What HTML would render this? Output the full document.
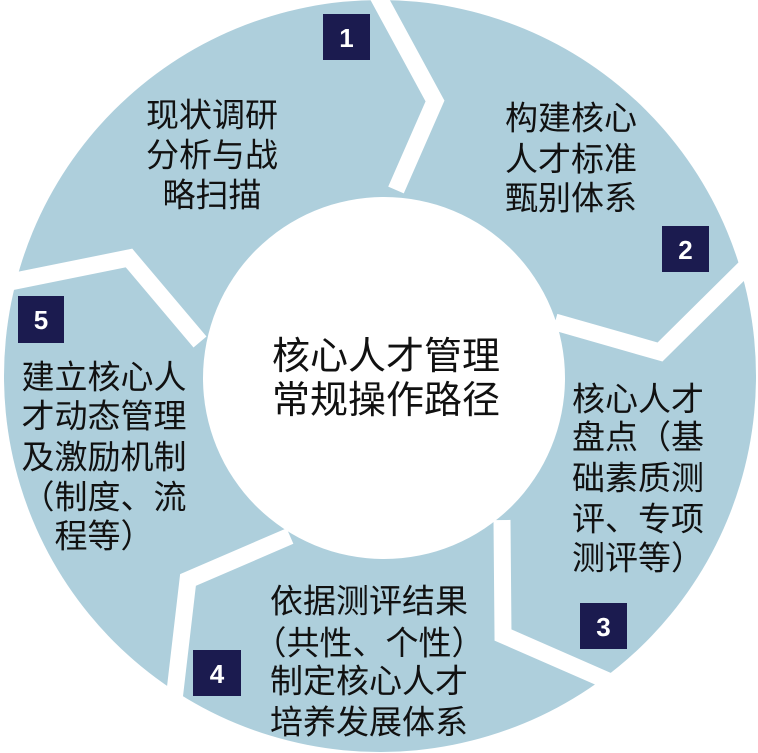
<!DOCTYPE html>
<html><head><meta charset="utf-8"><style>
html,body{margin:0;padding:0;background:#fff;}
svg{display:block;}
.t{font-family:"Liberation Sans","Noto Sans CJK SC",sans-serif;font-size:33px;fill:#111;text-anchor:middle;dominant-baseline:central;}
.c{font-size:38px;}
.n{font-family:"Liberation Sans",sans-serif;font-weight:bold;font-size:26px;fill:#fff;text-anchor:middle;dominant-baseline:central;}
</style></head><body>
<svg width="758" height="753" viewBox="0 0 758 753" xmlns="http://www.w3.org/2000/svg">
<circle cx="380" cy="376" r="376" fill="#aecfdc"/>
<g fill="none" stroke="#fff" stroke-width="17" stroke-linejoin="miter">
<polyline points="372,-15 435,101 396,190"/>
<polyline points="755,258 660,352 555,322"/>
<polyline points="502,520 503,635 615,684"/>
<polyline points="290,536 188,580 174,700"/>
<polyline points="0,284 129,258 200,342"/>
</g>
<circle cx="384" cy="378" r="181" fill="#fff"/>
<g fill="#1b1b4f">
<rect x="323" y="14" width="47" height="46"/>
<rect x="662" y="226" width="47" height="46"/>
<rect x="580" y="603" width="47" height="46"/>
<rect x="193" y="650" width="48" height="46"/>
<rect x="18" y="296" width="46" height="47"/>
</g>
<text class="n" x="346.5" y="38">1</text>
<text class="n" x="685.5" y="250">2</text>
<text class="n" x="603.5" y="627">3</text>
<text class="n" x="217" y="674">4</text>
<text class="n" x="41" y="320">5</text>
<text class="t" x="212" y="115">现状调研</text>
<text class="t" x="212" y="155">分析与战</text>
<text class="t" x="212" y="195">略扫描</text>
<text class="t" x="571" y="118">构建核心</text>
<text class="t" x="571" y="159">人才标准</text>
<text class="t" x="571" y="198">甄别体系</text>
<text class="t c" x="386" y="357">核心人才管理</text>
<text class="t c" x="386" y="401">常规操作路径</text>
<text class="t" x="638" y="399">核心人才</text>
<text class="t" x="638" y="437">盘点（基</text>
<text class="t" x="638" y="478">础素质测</text>
<text class="t" x="638" y="519">评、专项</text>
<text class="t" x="638" y="558">测评等）</text>
<text class="t" x="369" y="601">依据测评结果</text>
<text class="t" x="369" y="643">（共性、个性）</text>
<text class="t" x="369" y="681">制定核心人才</text>
<text class="t" x="369" y="722">培养发展体系</text>
<text class="t" x="104" y="377">建立核心人</text>
<text class="t" x="104" y="416">才动态管理</text>
<text class="t" x="104" y="457">及激励机制</text>
<text class="t" x="104" y="497">（制度、流</text>
<text class="t" x="104" y="536">程等）</text>
</svg>
</body></html>
